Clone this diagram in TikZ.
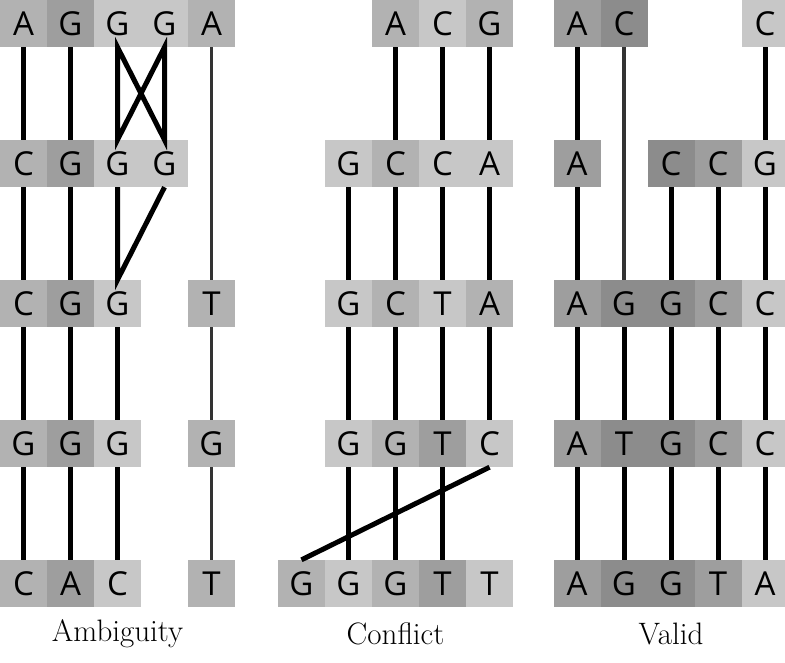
\documentclass[tikz,border=0pt]{standalone}
\usepackage{fontspec}
\newfontfamily\cellfont{Open Sans}
\begin{document}
\begin{tikzpicture}[x=1pt,y=-1pt,
  cell/.style={minimum width=47pt,minimum height=47pt,inner sep=0pt,font=\cellfont\fontsize{33}{33}\selectfont,anchor=center},
  L/.style={fill=black!22},M/.style={fill=black!30},D/.style={fill=black!38},E/.style={fill=black!45},
  link/.style={line width=5pt},
  thin/.style={line width=3.5pt,draw=black!80},
  lab/.style={font=\fontsize{31}{31}\selectfont}]
\useasboundingbox (0,0) rectangle (785,662);
% ---------- Panel 1 ----------
\def\ya{23.5}\def\yb{163.5}\def\yc{303.5}\def\yd{443.5}\def\ye{583.5}
\node[cell,M] (p0a) at (23.5,\ya) {A};
\node[cell,D] (p1a) at (70.5,\ya) {G};
\node[cell,L] (p2a) at (117.5,\ya) {G};
\node[cell,L] (p3a) at (164.5,\ya) {G};
\node[cell,M] (p4a) at (211.5,\ya) {A};
\node[cell,M] (p0b) at (23.5,\yb) {C};
\node[cell,D] (p1b) at (70.5,\yb) {G};
\node[cell,L] (p2b) at (117.5,\yb) {G};
\node[cell,L] (p3b) at (164.5,\yb) {G};
\node[cell,M] (p0c) at (23.5,\yc) {C};
\node[cell,D] (p1c) at (70.5,\yc) {G};
\node[cell,L] (p2c) at (117.5,\yc) {G};
\node[cell,M] (p4c) at (211.5,\yc) {T};
\node[cell,M] (p0d) at (23.5,\yd) {G};
\node[cell,D] (p1d) at (70.5,\yd) {G};
\node[cell,L] (p2d) at (117.5,\yd) {G};
\node[cell,M] (p4d) at (211.5,\yd) {G};
\node[cell,M] (p0e) at (23.5,\ye) {C};
\node[cell,D] (p1e) at (70.5,\ye) {A};
\node[cell,L] (p2e) at (117.5,\ye) {C};
\node[cell,M] (p4e) at (211.5,\ye) {T};
\foreach \c in {0,1}{
  \draw[link] (p\c a.south) -- (p\c b.north);
  \draw[link] (p\c b.south) -- (p\c c.north);
  \draw[link] (p\c c.south) -- (p\c d.north);
  \draw[link] (p\c d.south) -- (p\c e.north);}
\draw[link,line join=miter] (p2a.south) -- (p2b.north) -- (p3a.south) -- (p3b.north) -- cycle;
\draw[link,line join=miter] (p3b.south) -- (p2c.north) -- (p2b.south);
\draw[link] (p2c.south) -- (p2d.north);
\draw[link] (p2d.south) -- (p2e.north);
\draw[thin] (p4a.south) -- (p4c.north);
\draw[thin] (p4c.south) -- (p4d.north);
\draw[thin] (p4d.south) -- (p4e.north);
\node[lab] (t1) at (117.5,634) {Ambiguity};
% ---------- Panel 2 ----------
\node[cell,M] (q2a) at (395.5,\ya) {A};
\node[cell,L] (q3a) at (442.5,\ya) {C};
\node[cell,M] (q4a) at (489.5,\ya) {G};
\node[cell,L] (q1b) at (348.5,\yb) {G};
\node[cell,M] (q2b) at (395.5,\yb) {C};
\node[cell,L] (q3b) at (442.5,\yb) {C};
\node[cell,L] (q4b) at (489.5,\yb) {A};
\node[cell,L] (q1c) at (348.5,\yc) {G};
\node[cell,M] (q2c) at (395.5,\yc) {C};
\node[cell,L] (q3c) at (442.5,\yc) {T};
\node[cell,M] (q4c) at (489.5,\yc) {A};
\node[cell,L] (q1d) at (348.5,\yd) {G};
\node[cell,M] (q2d) at (395.5,\yd) {G};
\node[cell,D] (q3d) at (442.5,\yd) {T};
\node[cell,L] (q4d) at (489.5,\yd) {C};
\node[cell,M] (q0e) at (301.5,\ye) {G};
\node[cell,L] (q1e) at (348.5,\ye) {G};
\node[cell,M] (q2e) at (395.5,\ye) {G};
\node[cell,D] (q3e) at (442.5,\ye) {T};
\node[cell,L] (q4e) at (489.5,\ye) {T};
\foreach \c in {2,3,4}{\draw[link] (q\c a.south) -- (q\c b.north);}
\foreach \c in {1,2,3,4}{
  \draw[link] (q\c b.south) -- (q\c c.north);
  \draw[link] (q\c c.south) -- (q\c d.north);}
\foreach \c in {1,2,3}{\draw[link] (q\c d.south) -- (q\c e.north);}
\draw[link] (q4d.south) -- (q0e.north);
\node[lab] (t2) at (395.5,634) {Conflict};
% ---------- Panel 3 ----------
\node[cell,D] (r0a) at (577,\ya) {A};
\node[cell,E] (r1a) at (624,\ya) {C};
\node[cell,L] (r4a) at (765,\ya) {C};
\node[cell,D] (r0b) at (577,\yb) {A};
\node[cell,E] (r2b) at (671,\yb) {C};
\node[cell,D] (r3b) at (718,\yb) {C};
\node[cell,L] (r4b) at (765,\yb) {G};
\node[cell,D] (r0c) at (577,\yc) {A};
\node[cell,E] (r1c) at (624,\yc) {G};
\node[cell,E] (r2c) at (671,\yc) {G};
\node[cell,D] (r3c) at (718,\yc) {C};
\node[cell,L] (r4c) at (765,\yc) {C};
\node[cell,D] (r0d) at (577,\yd) {A};
\node[cell,E] (r1d) at (624,\yd) {T};
\node[cell,E] (r2d) at (671,\yd) {G};
\node[cell,D] (r3d) at (718,\yd) {C};
\node[cell,L] (r4d) at (765,\yd) {C};
\node[cell,D] (r0e) at (577,\ye) {A};
\node[cell,E] (r1e) at (624,\ye) {G};
\node[cell,E] (r2e) at (671,\ye) {G};
\node[cell,D] (r3e) at (718,\ye) {T};
\node[cell,L] (r4e) at (765,\ye) {A};
\draw[link] (r0a.south) -- (r0b.north);
\draw[link] (r4a.south) -- (r4b.north);
\draw[thin] (r1a.south) -- (r1c.north);
\foreach \c in {0,2,3,4}{\draw[link] (r\c b.south) -- (r\c c.north);}
\foreach \c in {0,1,2,3,4}{
  \draw[link] (r\c c.south) -- (r\c d.north);
  \draw[link] (r\c d.south) -- (r\c e.north);}
\node[lab] (t3) at (671,634) {Valid};
\end{tikzpicture}
\end{document}
